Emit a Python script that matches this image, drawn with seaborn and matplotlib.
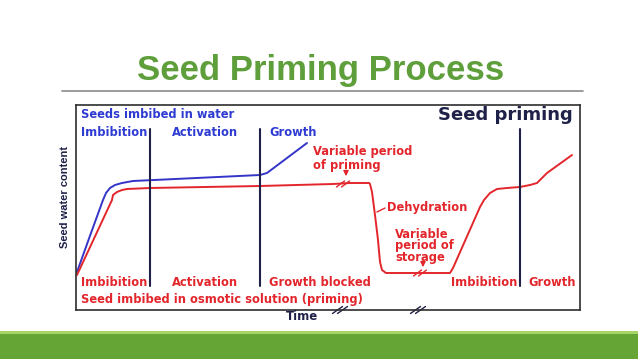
import matplotlib
matplotlib.use("Agg")
import matplotlib.pyplot as plt
from matplotlib.lines import Line2D
from matplotlib.patches import Rectangle
import seaborn as sns
import pandas as pd

# ---------------- data (arbitrary time / water-content units)
water_time = [1, 15, 27, 30, 34, 39, 46, 57, 184, 191, 231]
water_content = [38, 77, 110, 117, 122, 125, 127, 129, 135, 137, 167]

priming_time = [1, 36, 37, 41, 46, 51, 74, 184, 257, 274, 293, 294, 296, 299,
                302, 304, 306, 310, 344, 374, 377, 404, 408, 414, 421, 431,
                444, 454, 461, 471, 496]
priming_content = [35, 110, 115, 118, 120, 121, 122, 124, 126, 127, 127, 126,
                   118, 95, 70, 48, 40, 37, 37, 37, 42, 103, 110, 117, 121,
                   122, 123, 125, 127, 137, 155]

phase_bounds = [74, 184, 444]          # vertical phase separators
curve_breaks = [(267, 126), (344, 37)]  # "//" marks on the red curve
axis_breaks = [264, 342]                # "//" marks on the time axis

top_labels = ["Imbibition", "Activation", "Growth"]
bottom_labels = ["Imbibition", "Activation", "Growth blocked", "Imbibition", "Growth"]

# ---------------- colours
BLUE = "#3434c8"
BLUE_TXT = "#2e3bd2"
RED = "#e3262c"
NAVY = "#1f2148"
GREEN = "#5e9f3b"

sns.set_style("white")
plt.rcParams["font.family"] = ["DejaVu Sans"]

fig = plt.figure(figsize=(6.38, 3.59), dpi=100)
ax = fig.add_axes([76 / 638, 49 / 359, 504 / 638, 205 / 359])

df_w = pd.DataFrame({"time": water_time, "content": water_content})
df_p = pd.DataFrame({"time": priming_time, "content": priming_content})
sns.lineplot(data=df_w, x="time", y="content", ax=ax, color=BLUE, lw=1.4,
             sort=False, estimator=None)
sns.lineplot(data=df_p, x="time", y="content", ax=ax, color=RED, lw=1.4,
             sort=False, estimator=None)

ax.set_xlim(0, 504)
ax.set_ylim(0, 205)
ax.set_xticks([])
ax.set_yticks([])
ax.set_xlabel("")
ax.set_ylabel("")
for s in ax.spines.values():
    s.set_color("#2e2e2e")
    s.set_linewidth(1.2)

for xb in phase_bounds:
    ax.plot([xb, xb], [24, 181], color=NAVY, lw=1.5)

# break marks on the red curve
for (bx, by) in curve_breaks:
    for dx in (-2.5, 2.5):
        ax.plot([bx + dx - 4, bx + dx + 4], [by - 3, by + 3], color=RED, lw=1.0)
# break marks on the time axis
for bx in axis_breaks:
    for dx in (-2.5, 2.5):
        ax.plot([bx + dx - 5, bx + dx + 5], [-3.5, 3.5], color=NAVY, lw=1.0,
                clip_on=False)

fs = 8.3
kw = dict(fontweight="bold", fontsize=fs, va="center")
ax.text(5, 195, "Seeds imbibed in water", color=BLUE_TXT, ha="left", **kw)
ax.text(5, 178, top_labels[0], color=BLUE_TXT, ha="left", **kw)
ax.text(129, 178, top_labels[1], color=BLUE_TXT, ha="center", **kw)
ax.text(193, 178, top_labels[2], color=BLUE_TXT, ha="left", **kw)
ax.text(497, 195, "Seed priming", color=NAVY, ha="right", va="center",
        fontweight="bold", fontsize=13)

ax.text(5, 28, bottom_labels[0], color=RED, ha="left", **kw)
ax.text(129, 28, bottom_labels[1], color=RED, ha="center", **kw)
ax.text(193, 28, bottom_labels[2], color=RED, ha="left", **kw)
ax.text(375, 28, bottom_labels[3], color=RED, ha="left", **kw)
ax.text(452, 28, bottom_labels[4], color=RED, ha="left", **kw)
ax.text(5, 11, "Seed imbibed in osmotic solution (priming)", color=RED,
        ha="left", **kw)

ax.text(237, 151.5, "Variable period\nof priming", color=RED, ha="left",
        va="center", fontweight="bold", fontsize=fs, linespacing=1.0)
ax.annotate("", xy=(270, 131), xytext=(270, 142),
            arrowprops=dict(arrowstyle="-|>,head_length=0.3,head_width=0.15",
                            color=RED, lw=1.0))
ax.text(311, 103, "Dehydration", color=RED, ha="left", **kw)
ax.plot([301, 309], [98, 102], color=RED, lw=1.0)
ax.text(319, 64, "Variable\nperiod of\nstorage", color=RED, ha="left",
        va="center", fontweight="bold", fontsize=fs, linespacing=0.85)
ax.annotate("", xy=(347, 40), xytext=(347, 50),
            arrowprops=dict(arrowstyle="-|>,head_length=0.3,head_width=0.15",
                            color=RED, lw=1.0))

ax.text(226, -7, "Time", color=NAVY, ha="center", va="center",
        fontweight="bold", fontsize=8.5, clip_on=False)
fig.text(65 / 638, 1 - 197 / 359, "Seed water content", rotation=90,
         color=NAVY, ha="center", va="center", fontweight="bold", fontsize=8,
         family=["Liberation Sans", "DejaVu Sans"])

# slide decorations
fig.text(321 / 638, 1 - 80 / 359, "Seed Priming Process", color=GREEN,
         ha="center", va="baseline", fontweight="bold", fontsize=25,
         family=["Liberation Sans", "DejaVu Sans"])
fig.add_artist(Line2D([62 / 638, 583 / 638], [1 - 91 / 359, 1 - 91 / 359],
                      color="#8a8a8a", lw=1.2))
fig.add_artist(Rectangle((0, 0), 1, 25 / 359, color="#64a536", lw=0))
fig.add_artist(Rectangle((0, 25 / 359), 1, 3 / 359, color="#a6d468", lw=0))

fig.savefig("out.png", dpi=100)
